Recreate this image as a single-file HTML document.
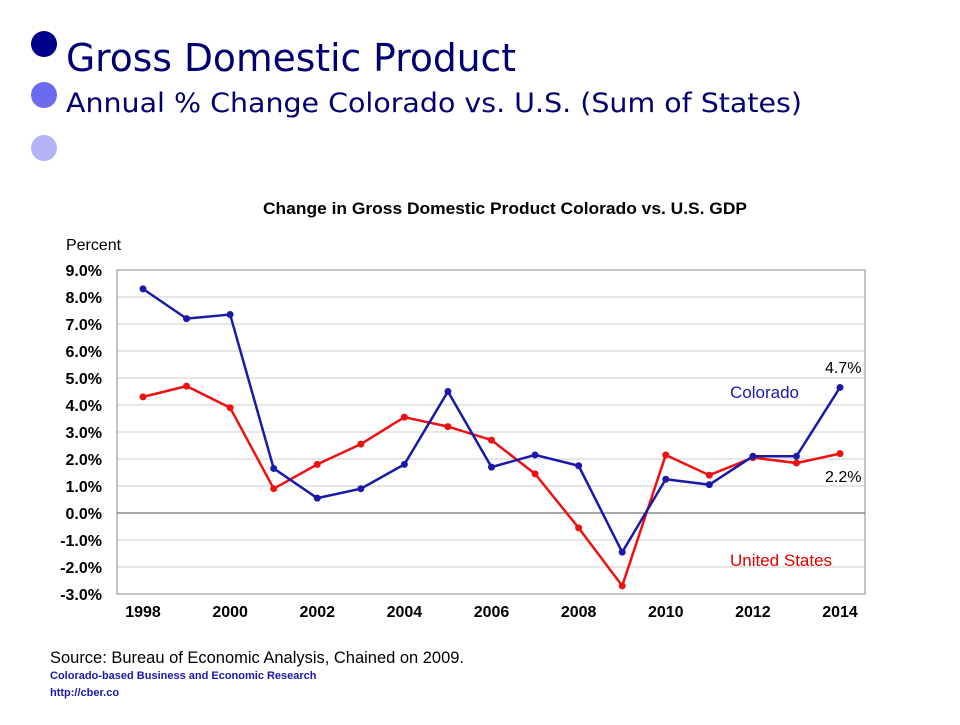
<!DOCTYPE html>
<html><head><meta charset="utf-8"><style>
body{margin:0;width:960px;height:720px;background:#fff;overflow:hidden;font-family:"Liberation Sans Narrow","Liberation Sans",sans-serif}
svg text{font-family:"Liberation Sans Narrow","Liberation Sans",sans-serif}
</style></head><body>
<svg id="s" width="960" height="720" xmlns="http://www.w3.org/2000/svg">
<circle cx="44" cy="44" r="13" fill="#00008b"/>
<circle cx="44" cy="95" r="13" fill="#6b6bef"/>
<circle cx="44" cy="148" r="13" fill="#b3b3f5"/>
<text x="66" y="71" style="font-family:'DejaVu Sans',sans-serif" font-size="38" fill="#000070" textLength="450" lengthAdjust="spacingAndGlyphs">Gross Domestic Product</text>
<text x="66" y="112" style="font-family:'DejaVu Sans',sans-serif" font-size="27" fill="#000070" textLength="736" lengthAdjust="spacingAndGlyphs">Annual % Change Colorado vs. U.S. (Sum of States)</text>
<text x="505" y="214" text-anchor="middle" font-size="17" font-weight="bold" textLength="484" lengthAdjust="spacingAndGlyphs">Change in Gross Domestic Product Colorado vs. U.S. GDP</text>
<text x="66" y="250" font-size="16" textLength="55" lengthAdjust="spacingAndGlyphs">Percent</text>
<g id="grid"></g>
<rect x="117" y="270" width="748" height="324" fill="none" stroke="#888"/>
<line x1="117" y1="513" x2="865" y2="513" stroke="#555"/>
<g id="lines"></g>
<text x="730" y="398" font-size="17" fill="#1a1aa8">Colorado</text>
<text x="730" y="566" font-size="17" fill="#e00000">United States</text>
<text x="825" y="373" font-size="16">4.7%</text>
<text x="825" y="482" font-size="16">2.2%</text>
<text x="50" y="663" font-size="17" textLength="414" lengthAdjust="spacingAndGlyphs">Source: Bureau of Economic Analysis, Chained on 2009.</text>
<text x="50" y="679" font-size="11" font-weight="bold" fill="#1a1aa8">Colorado-based Business and Economic Research</text>
<text x="50" y="696" font-size="11" font-weight="bold" fill="#1a1aa8">http://cber.co</text>
</svg>
<script>
var NS="http://www.w3.org/2000/svg",g=document.getElementById('grid'),L=document.getElementById('lines');
function el(p,t,a,txt){var e=document.createElementNS(NS,t);for(var k in a)e.setAttribute(k,a[k]);if(txt)e.textContent=txt;p.appendChild(e);return e;}
function X(i){return 143+43.5625*i}function Y(v){return 513-27*v}
for(var v=-3;v<=9;v++){if(v>-3&&v<9)el(g,'line',{x1:117,x2:865,y1:Y(v),y2:Y(v),stroke:'#ccc'});
el(g,'text',{x:102,y:Y(v)+6,'text-anchor':'end','font-size':16,'font-weight':'bold'},v.toFixed(1)+'%');}
for(var i=0;i<=16;i+=2){el(g,'text',{x:X(i),y:617,'text-anchor':'middle','font-size':16,'font-weight':'bold'},String(1998+i));}
var co=[8.3,7.2,7.35,1.65,0.55,0.9,1.8,4.5,1.7,2.15,1.75,-1.45,1.25,1.05,2.1,2.1,4.65];
var us=[4.3,4.7,3.9,0.9,1.8,2.55,3.55,3.2,2.7,1.45,-0.55,-2.7,2.15,1.4,2.05,1.85,2.2];
function draw(d,c){el(L,'polyline',{points:d.map(function(v,i){return X(i)+','+Y(v)}).join(' '),fill:'none',stroke:c,'stroke-width':2.5});
d.forEach(function(v,i){el(L,'circle',{cx:X(i),cy:Y(v),r:3.5,fill:c});});}
draw(us,'#ee1111');draw(co,'#1a1aa8');
</script>
</body></html>
